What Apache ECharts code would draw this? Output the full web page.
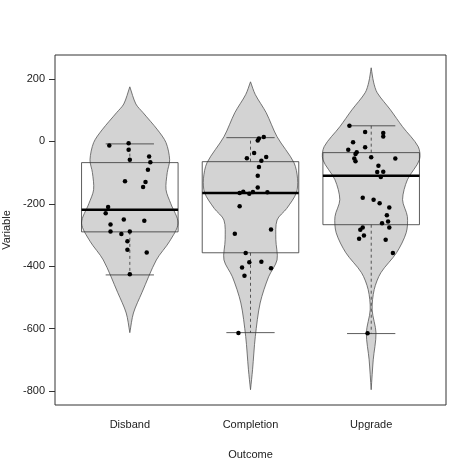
<!DOCTYPE html>
<html><head><meta charset="utf-8">
<script src="https://cdn.jsdelivr.net/npm/echarts@6/dist/echarts.min.js"></script>
<style>html,body{margin:0;padding:0;background:#fff}#c{width:474px;height:474px}</style>
</head><body><div id="c"></div>
<script>
var categories = ['Disband','Completion','Upgrade'];
var yTicks = [-800,-600,-400,-200,0,200];
// violin profiles: [value, half-width in category units]
var violinDisband = [[175,0],[120,0.05],[92,0.11],[37,0.23],[-4,0.30],[-59,0.33],[-100,0.31],[-155,0.30],[-200,0.34],[-262,0.40],[-320,0.33],[-380,0.22],[-485,0.10],[-550,0.03],[-613,0]];
var violinCompletion = [[191,0],[150,0.04],[92,0.13],[15,0.22],[-68,0.36],[-120,0.39],[-165,0.38],[-215,0.30],[-252,0.22],[-315,0.21],[-380,0.22],[-434,0.15],[-518,0.08],[-625,0.04],[-732,0.017],[-796,0]];
var violinUpgrade = [[236,0],[190,0.02],[156,0.05],[101,0.16],[47,0.26],[-17,0.39],[-59,0.40],[-123,0.30],[-187,0.26],[-241,0.30],[-293,0.29],[-357,0.21],[-421,0.08],[-475,0.025],[-540,0.008],[-614,0.04],[-700,0.017],[-796,0]];
// box stats: [whiskerLow, q1, median, q3, whiskerHigh]
var boxDisband = [-428,-290,-219,-68,-8];
var boxCompletion = [-613,-357,-165,-65,12];
var boxUpgrade = [-616,-267,-110,-36,50];
// points: [x jitter position, value]
var ptsDisband = [[0.83,-13],[0.99,-6],[0.99,-27],[1.00,-59],[1.16,-48],[1.17,-67],[1.15,-91],[0.96,-128],[1.13,-130],[1.11,-146],[0.82,-210],[0.80,-230],[0.95,-250],[1.12,-254],[0.84,-266],[0.84,-289],[0.93,-297],[1.00,-289],[0.98,-320],[0.98,-347],[1.14,-356],[1.00,-426]];
var ptsCompletion = [[2.11,14],[2.07,9],[2.06,3],[2.03,-37],[2.13,-50],[1.97,-54],[2.09,-62],[2.07,-82],[2.06,-110],[2.06,-148],[1.91,-165],[1.94,-161],[1.99,-168],[2.02,-162],[2.14,-163],[1.91,-208],[1.87,-296],[2.17,-282],[1.96,-358],[1.99,-387],[2.09,-386],[1.93,-404],[2.17,-407],[1.95,-431],[1.90,-614]];
var ptsUpgrade = [[2.82,50],[2.95,30],[3.10,27],[3.10,16],[2.85,-3],[2.95,-19],[2.81,-27],[2.88,-35],[2.87,-40],[2.86,-55],[2.87,-64],[3.00,-51],[3.20,-55],[3.06,-78],[3.05,-98],[3.10,-97],[3.08,-114],[2.93,-181],[3.02,-187],[3.07,-198],[3.15,-212],[3.13,-237],[3.14,-257],[3.09,-262],[3.15,-276],[2.93,-276],[2.91,-283],[2.94,-302],[2.90,-312],[3.12,-315],[3.18,-358],[2.97,-615]];

var violins = [violinDisband, violinCompletion, violinUpgrade];
var boxes = [boxDisband, boxCompletion, boxUpgrade];
var BOXHALF = 0.4, CAPHALF = 0.2;

var chart = echarts.init(document.getElementById('c'));
var font = 'Liberation Sans, Arial, sans-serif';
chart.setOption({
  animation:false,
  grid:{left:55,right:28,top:55,bottom:69,containLabel:false,outerBoundsMode:'none',show:true,borderColor:'#333',borderWidth:1,backgroundColor:'transparent'},
  xAxis:{type:'value',min:0.38,max:3.62,name:'Outcome',nameLocation:'middle',nameGap:44,
    nameTextStyle:{fontFamily:font,fontSize:11,color:'#222'},
    axisLine:{show:false},splitLine:{show:false},
    axisTick:{show:true,length:6,lineStyle:{color:'#333'},customValues:[1,2,3]},
    axisLabel:{fontFamily:font,fontSize:11,color:'#222',margin:14,customValues:[1,2,3],formatter:function(v){return categories[Math.round(v)-1]||'';}}},
  yAxis:{type:'value',min:-845,max:277,name:'Variable',nameLocation:'middle',nameGap:42,
    nameTextStyle:{fontFamily:font,fontSize:11,color:'#222'},
    axisLine:{show:false},splitLine:{show:false},
    axisTick:{show:true,length:6,lineStyle:{color:'#333'},customValues:yTicks},
    axisLabel:{fontFamily:font,fontSize:11,color:'#222',margin:10,customValues:yTicks}},
  series:[
    {type:'custom',data:[0,1,2],z:1,renderItem:function(params,api){
      var i=params.dataIndex, prof=violins[i], c=i+1, pts=[];
      prof.forEach(function(p){pts.push(api.coord([c+p[1],p[0]]));});
      for(var k=prof.length-1;k>=0;k--){pts.push(api.coord([c-prof[k][1],prof[k][0]]));}
      return {type:'polygon',shape:{points:pts,smooth:0.3},style:{fill:'#d3d3d3',stroke:'#555',lineWidth:0.8}};
    }},
    {type:'custom',data:[0,1,2],z:2,renderItem:function(params,api){
      var i=params.dataIndex,b=boxes[i],c=i+1;
      function L(x1,y1,x2,y2,st){var a=api.coord([x1,y1]),d=api.coord([x2,y2]);return {type:'line',shape:{x1:a[0],y1:a[1],x2:d[0],y2:d[1]},style:st};}
      var thin={stroke:'#333',lineWidth:0.8};
      var tl=api.coord([c-BOXHALF,b[3]]),br=api.coord([c+BOXHALF,b[1]]);
      return {type:'group',children:[
        L(c,b[3],c,b[4],{stroke:'#333',lineWidth:0.8,lineDash:[3,3]}),
        L(c,b[1],c,b[0],{stroke:'#333',lineWidth:0.8,lineDash:[3,3]}),
        L(c-CAPHALF,b[4],c+CAPHALF,b[4],thin),
        L(c-CAPHALF,b[0],c+CAPHALF,b[0],thin),
        {type:'rect',shape:{x:tl[0],y:tl[1],width:br[0]-tl[0],height:br[1]-tl[1]},style:{fill:'none',stroke:'#333',lineWidth:0.8}},
        L(c-BOXHALF,b[2],c+BOXHALF,b[2],{stroke:'#000',lineWidth:2.5})
      ]};
    }},
    {type:'scatter',z:3,data:ptsDisband,symbol:'circle',symbolSize:4.5,itemStyle:{color:'#000',opacity:1}},
    {type:'scatter',z:3,data:ptsCompletion,symbol:'circle',symbolSize:4.5,itemStyle:{color:'#000',opacity:1}},
    {type:'scatter',z:3,data:ptsUpgrade,symbol:'circle',symbolSize:4.5,itemStyle:{color:'#000',opacity:1}}
  ]
});
</script></body></html>
